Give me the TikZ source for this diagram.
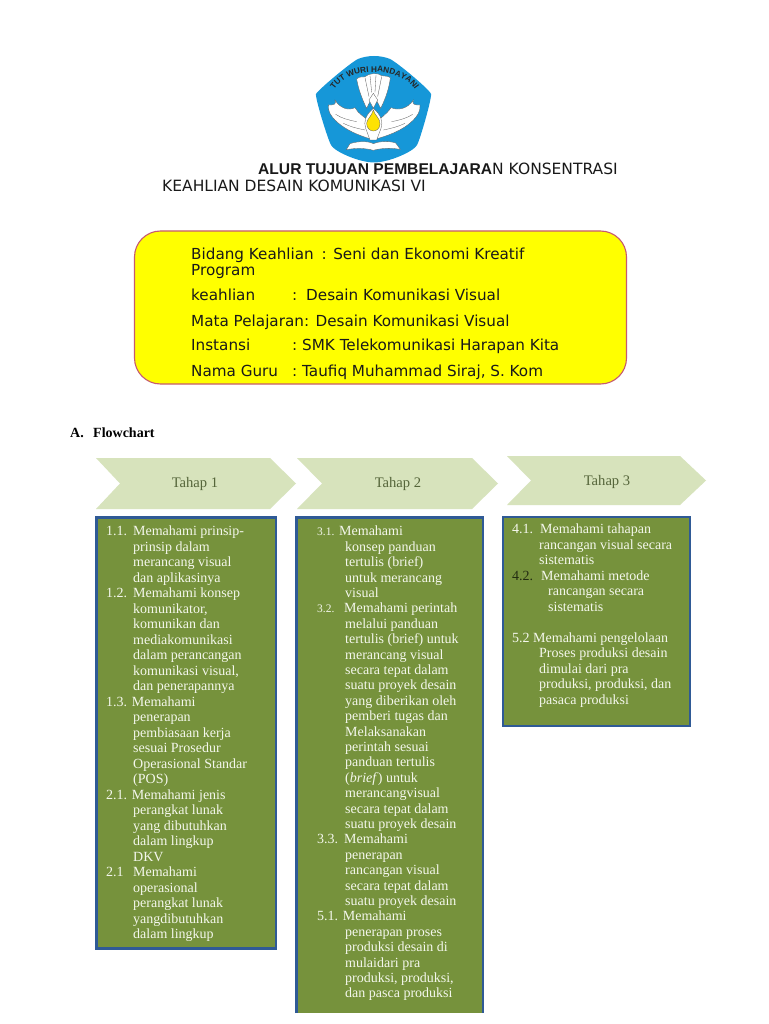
\documentclass[tikz,border=0pt]{standalone}
\usepackage{fontspec}
\setmainfont{Liberation Serif}
\newfontfamily\arialf{Liberation Sans}
\newfontfamily\dejaf{DejaVu Sans}
\usetikzlibrary{decorations.text}
\definecolor{logoblue}{HTML}{1697D8}
\definecolor{chev}{HTML}{D7E3BC}
\definecolor{chevtext}{HTML}{55653A}
\definecolor{olive}{HTML}{76923C}
\definecolor{edgeblue}{HTML}{2F5A96}
\definecolor{boxyellow}{HTML}{FFFF00}
\definecolor{boxedge}{HTML}{C65A70}
\definecolor{boxtxt}{HTML}{F4F7EC}
\newcommand\numline[3]{\makebox[#1pt][l]{#2}#3}
\newcommand\hang[2]{\hspace*{#1pt}#2}
\tikzset{
  x=1pt,y=-1pt,
  chevron/.style={fill=chev,draw=none},
  chevlabel/.style={text=chevtext,font=\fontsize{14.6}{17}\selectfont,inner sep=0pt},
  panel/.style={fill=olive,draw=edgeblue,line width=2.3pt},
  paneltext/.style={anchor=north west,inner sep=0pt,align=left,text=boxtxt,
    font=\fontsize{14}{15.5}\selectfont},
  paneltwo/.style={paneltext,font=\fontsize{14}{15.4}\selectfont},
  inforow/.style={anchor=base west,inner sep=0pt,text=black!90,font=\dejaf\fontsize{15.2}{17}\selectfont},
  titlerow/.style={anchor=base west,inner sep=0pt,text=black!90,font=\dejaf\fontsize{15.5}{18}\selectfont},
  wingw/.style={fill=white,draw=black!65,line width=0.3pt},
  logoline/.style={draw=black!65,line width=0.3pt},
}
\begin{document}
\begin{tikzpicture}
\useasboundingbox (0,0) rectangle (768,1024);
\fill[white] (0,0) rectangle (768,1024);
% logo
\fill[logoblue] (316,94) .. controls (318,90) and (350,63) .. (358,59)
  .. controls (368,55) and (380,55) .. (390,59) .. controls (398,63) and (430,90) .. (431,94)
  .. controls (432,98) and (420,140) .. (417,145) .. controls (414,151) and (395,159) .. (385,161)
  .. controls (378,163) and (370,163) .. (363,161) .. controls (353,159) and (334,151) .. (331,145)
  .. controls (328,140) and (315,98) .. (316,94) -- cycle;
\path[postaction={decorate,decoration={text along path,text align=center,
  text={|\arialf\bfseries\fontsize{8.2}{9}\selectfont\color{black!85}|TUT WURI HANDAYANI}}}]
  (331,96) .. controls (342,64) and (407,64) .. (418,96);
\begin{scope}[shift={(315,55)},x=0.3333pt,y=-0.3333pt]
  % tulip
  \fill[wingw] (125,72) .. controls (135,62) and (145,68) .. (150,65) .. controls (160,55) and (190,52) .. (200,62)
    .. controls (208,66) and (215,60) .. (226,68) .. controls (222,100) and (212,130) .. (197,160)
    -- (175,118) -- (155,160) .. controls (140,130) and (130,100) .. (125,72) -- cycle;
  \draw[logoline] (150,68) -- (162,125) (165,62) -- (170,112) (183,60) -- (180,112) (200,65) -- (188,125);
  % wings
  \fill[wingw] (60,135) .. controls (65,150) and (55,150) .. (40,150) .. controls (38,170) and (50,185) .. (60,195)
    .. controls (80,215) and (110,235) .. (168,252) -- (168,205) .. controls (150,185) and (130,178) .. (120,158)
    .. controls (100,168) and (75,160) .. (60,135) -- cycle;
  \fill[wingw] (295,135) .. controls (290,150) and (300,150) .. (315,150) .. controls (317,170) and (305,185) .. (295,195)
    .. controls (275,215) and (245,235) .. (182,252) -- (182,205) .. controls (200,185) and (215,178) .. (228,158)
    .. controls (250,168) and (280,160) .. (295,135) -- cycle;
  \draw[logoline] (62,178) .. controls (80,190) and (100,195) .. (125,200) (85,205) .. controls (105,215) and (125,220) .. (150,225)
    (293,178) .. controls (275,190) and (255,195) .. (230,200) (270,205) .. controls (250,215) and (230,220) .. (205,225);
  % flame body
  \fill[wingw] (175,115) -- (188,135) -- (175,160) .. controls (198,180) and (205,200) .. (198,220)
    -- (185,255) -- (165,255) -- (152,220) .. controls (145,200) and (152,180) .. (175,160) -- (162,135) -- cycle;
  \fill[yellow!85!orange,draw=black!65,line width=.3pt] (175,165) .. controls (178,180) and (196,190) .. (195,207)
    .. controls (194,222) and (184,228) .. (175,228) .. controls (165,228) and (155,220) .. (155,205)
    .. controls (155,192) and (170,185) .. (175,165) -- cycle;
  % book
  \fill[wingw] (105,266) .. controls (130,258) and (160,258) .. (175,266) .. controls (195,258) and (225,258) .. (242,264)
    -- (256,283) .. controls (225,278) and (195,280) .. (175,286) .. controls (155,280) and (125,278) .. (94,284) -- cycle;
\end{scope}
% title
\node[titlerow] (title1) at (258,175) {{\arialf\bfseries\fontsize{15.6}{18}\selectfont ALUR TUJUAN PEMBELAJARA}N KONSENTRASI};
\node[titlerow] (title2) at (162,192) {KEAHLIAN DESAIN KOMUNIKASI VI};
% info box
\draw[fill=boxyellow,draw=boxedge,line width=1.1pt,rounded corners=26pt] (134.5,231) rectangle (626.5,384);
\node[inforow] (r1) at (191,259) {Bidang Keahlian};
\node[inforow] (r1b) at (321.5,259) {: Seni dan Ekonomi Kreatif};
\node[inforow] (r2) at (191,275) {Program};
\node[inforow] (r3) at (191,300) {keahlian};
\node[inforow] (r3b) at (292,300) {:};
\node[inforow] (r3c) at (306,300) {Desain Komunikasi Visual};
\node[inforow] (r4) at (191,326) {Mata Pelajaran: Desain Komunikasi Visual};
\node[inforow] (r5) at (191,350) {Instansi};
\node[inforow] (r5b) at (292,350) {:};
\node[inforow] (r5c) at (302,350) {SMK Telekomunikasi Harapan Kita};
\node[inforow] (r6) at (191,376) {Nama Guru};
\node[inforow] (r6b) at (292,376) {:};
\node[inforow] (r6c) at (302,376) {Taufiq Muhammad Siraj, S. Kom};
% heading
\node[anchor=base west,inner sep=0pt,font=\fontsize{14}{16}\selectfont\bfseries] (headA) at (70,437) {A.};
\node[anchor=base west,inner sep=0pt,font=\fontsize{14}{16}\selectfont\bfseries] (headB) at (93,437) {Flowchart};
% chevrons
\fill[chevron] (96,458) -- (270,458) -- (296,483.5) -- (270,509) -- (96,509) -- (120,483.5) -- cycle;
\fill[chevron] (297,458) -- (472,458) -- (498,483.5) -- (472,509) -- (297,509) -- (322,483.5) -- cycle;
\fill[chevron] (507,456) -- (680,456) -- (706,480.5) -- (680,505) -- (507,505) -- (531,480.5) -- cycle;
\node[chevlabel] (t1) at (195,484) {Tahap 1};
\node[chevlabel] (t2) at (398,484) {Tahap 2};
\node[chevlabel] (t3) at (607,482) {Tahap 3};
% panels
\draw[panel] (96.5,517.5) rectangle (276,948.5);
\fill[olive] (296,517) rectangle (484,1013);
\draw[edgeblue,line width=2.3pt] (296.5,1013) -- (296.5,517.5) -- (483,517.5) -- (483,1013);
\draw[panel] (503,517) rectangle (690,726);
\node[paneltext] (p1) at (106,526) {%
\numline{27}{1.1.}{Memahami prinsip-}\\
\hang{27}{prinsip dalam}\\
\hang{27}{merancang visual}\\
\hang{27}{dan aplikasinya}\\
\numline{27}{1.2.}{Memahami konsep}\\
\hang{27}{komunikator,}\\
\hang{27}{komunikan dan}\\
\hang{27}{mediakomunikasi}\\
\hang{27}{dalam perancangan}\\
\hang{27}{komunikasi visual,}\\
\hang{27}{dan penerapannya}\\
1.3. Memahami\\
\hang{27}{penerapan}\\
\hang{27}{pembiasaan kerja}\\
\hang{27}{sesuai Prosedur}\\
\hang{27}{Operasional Standar}\\
\hang{27}{(POS)}\\
2.1. Memahami jenis\\
\hang{27}{perangkat lunak}\\
\hang{27}{yang dibutuhkan}\\
\hang{27}{dalam lingkup}\\
\hang{27}{DKV}\\
\numline{27}{2.1}{Memahami}\\
\hang{27}{operasional}\\
\hang{27}{perangkat lunak}\\
\hang{27}{yangdibutuhkan}\\
\hang{27}{dalam lingkup}};
\node[paneltwo] (p2) at (317,526) {%
\numline{22}{\fontsize{11.5}{15.4}\selectfont 3.1.}{Memahami}\\
\hang{28}{konsep panduan}\\
\hang{28}{tertulis (brief)}\\
\hang{28}{untuk merancang}\\
\hang{28}{visual}\\
\numline{27}{\fontsize{11.5}{15.4}\selectfont 3.2.}{Memahami perintah}\\
\hang{28}{melalui panduan}\\
\hang{28}{tertulis (brief) untuk}\\
\hang{28}{merancang visual}\\
\hang{28}{secara tepat dalam}\\
\hang{28}{suatu proyek desain}\\
\hang{28}{yang diberikan oleh}\\
\hang{28}{pemberi tugas dan}\\
\hang{28}{Melaksanakan}\\
\hang{28}{perintah sesuai}\\
\hang{28}{panduan tertulis}\\
\hang{28}{(\textit{brief}) untuk}\\
\hang{28}{merancangvisual}\\
\hang{28}{secara tepat dalam}\\
\hang{28}{suatu proyek desain}\\
\numline{27}{3.3.}{Memahami}\\
\hang{28}{penerapan}\\
\hang{28}{rancangan visual}\\
\hang{28}{secara tepat dalam}\\
\hang{28}{suatu proyek desain}\\
5.1. Memahami\\
\hang{28}{penerapan proses}\\
\hang{28}{produksi desain di}\\
\hang{28}{mulaidari pra}\\
\hang{28}{produksi, produksi,}\\
\hang{28}{dan pasca produksi}};
\node[paneltext] (p3) at (512,524) {%
\numline{28}{4.1.}{Memahami tahapan}\\
\hang{27}{rancangan visual secara}\\
\hang{27}{sistematis}\\
\numline{29}{\textcolor{black!70!olive}{4.2.}}{Memahami metode}\\
\hang{36}{rancangan secara}\\
\hang{36}{sistematis}\\
\mbox{}\\
5.2 Memahami pengelolaan\\
\hang{27}{Proses produksi desain}\\
\hang{27}{dimulai dari pra}\\
\hang{27}{produksi, produksi, dan}\\
\hang{27}{pasaca produksi}};
\end{tikzpicture}
\end{document}
